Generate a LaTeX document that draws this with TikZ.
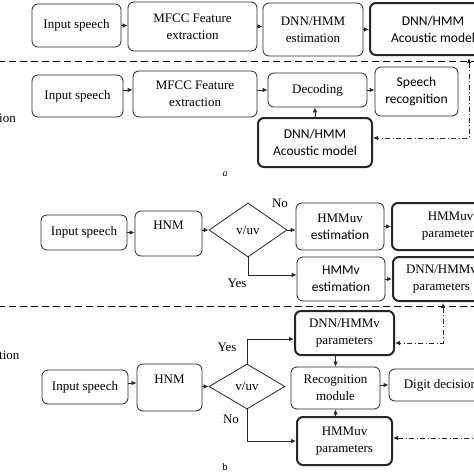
\documentclass[tikz,border=0pt]{standalone}
\usepackage{fontspec}
\setmainfont{Liberation Serif}
\setsansfont{Carlito}
\usetikzlibrary{arrows.meta,shapes.geometric}
\tikzset{
  box/.style={draw=black!85, line width=0.8pt, rounded corners=6pt, inner sep=0pt, align=center,
    font=\fontsize{13}{17}\selectfont},
  thickbox/.style={box, line width=2pt},
  decision/.style={draw=black!85, line width=0.8pt, diamond, inner sep=0pt,
    font=\fontsize{13}{17}\selectfont},
  flow/.style={draw=black!85, line width=0.8pt, -{Latex[length=5pt,width=4.5pt]}},
  dashdot/.style={draw=black!85, line width=0.8pt, dash pattern=on 5pt off 2.5pt on 1pt off 2.5pt},
  tag/.style={font=\fontsize{13}{15}\selectfont, inner sep=0pt}
}
\begin{document}
\begin{tikzpicture}[x=1pt,y=-1pt]
\useasboundingbox (0,0) rectangle (474,474);
\clip (0,0) rectangle (474,474);
\fill[white] (0,0) rectangle (474,474);
% part a, upper row
\node[box, minimum width=89, minimum height=43] (in1) at (76.5,25.5) {Input speech};
\node[box, minimum width=129, minimum height=49] (mfcc1) at (192.5,26.5) {MFCC Feature\\extraction};
\node[box, minimum width=100, minimum height=53] (est1) at (313,29.5) {DNN/HMM\\estimation};
\node[thickbox, minimum width=126, minimum height=52, font=\sffamily\fontsize{13.5}{17}\selectfont] (am1) at (433,29) {DNN/HMM\\Acoustic model};
\draw[flow] (in1.east) -- (in1.east -| mfcc1.west);
\draw[flow] (mfcc1.east) -- (mfcc1.east -| est1.west);
\draw[flow] (est1.east) -- (est1.east -| am1.west);
\draw[dashed, line width=1pt, dash pattern=on 7pt off 4pt] (-2,61) -- (480,61);
% part a, lower row
\node[box, minimum width=91, minimum height=42] (in2) at (77.5,96) {Input speech};
\node[box, minimum width=124, minimum height=46] (mfcc2) at (195,94) {MFCC Feature\\extraction};
\node[box, minimum width=99, minimum height=34] (dec2) at (317.5,90) {Decoding};
\node[box, minimum width=83, minimum height=49, font=\sffamily\fontsize{13.5}{17}\selectfont] (sr2) at (416.5,91.5) {Speech\\recognition};
\node[thickbox, minimum width=114, minimum height=49, font=\sffamily\fontsize{13.5}{17}\selectfont] (am2) at (315,142.5) {DNN/HMM\\Acoustic model};
\draw[flow] (in2.east |- dec2) -- (mfcc2.west |- dec2);
\draw[flow] (mfcc2.east |- dec2) -- (dec2.west);
\draw[flow] (dec2.east) -- (dec2.east -| sr2.west);
\draw[flow] (am2.north) -- (am2.north |- dec2.south);
\coordinate (amtop) at (469,58);
\coordinate (amturn) at (469,138);
\draw[dashdot, {Latex[length=5pt,width=4.5pt]}-{Latex[length=5pt,width=4.5pt]}] (amtop) -- (amturn) -- (amturn -| am2.east);
\node[tag, anchor=west] (lbla) at (-1,118) {ion};
\node[tag, font=\itshape\fontsize{10}{12}\selectfont] (capa) at (225,174) {a};
% part b, upper row
\node[box, minimum width=86, minimum height=35] (in3) at (84,232.5) {Input speech};
\node[box, minimum width=67, minimum height=45] (hnm3) at (168.5,233.5) {HNM\\~};
\node[decision, minimum width=78, minimum height=54, aspect=1.44] (vuv3) at (248,230) {v/uv};
\node[box, minimum width=88, minimum height=47] (uvest3) at (340,226.5) {HMMuv\\{\sffamily\fontsize{13.5}{17}\selectfont estimation}};
\node[thickbox, minimum width=117, minimum height=47] (uvpar3) at (450.5,226.5) {HMMuv\\parameters};
\node[box, minimum width=88, minimum height=44, font=\sffamily\fontsize{13.5}{17}\selectfont] (vest3) at (341,279) {HMMv\\estimation};
\node[thickbox, minimum width=97, minimum height=44] (vpar3) at (441.5,279) {DNN/HMMv\\parameters};
\draw[flow] (in3.east) -- (in3.east -| hnm3.west);
\draw[flow] (hnm3.west |- vuv3) ++(67,0) -- (vuv3.west);
\draw[flow] (vuv3.east) -- (vuv3.east -| uvest3.west);
\draw[flow] (uvest3.east) -- (uvest3.east -| uvpar3.west);
\draw[flow] (vest3.east) -- (vest3.east -| vpar3.west);
\draw[flow] (vuv3.south) |- ([yshift=4pt]vest3.west);
\node[tag] (no3) at (280,203) {No};
\node[tag] (yes3) at (237,283) {Yes};
\draw[dashed, line width=1pt, dash pattern=on 7pt off 4pt] (-2,306) -- (480,306);
% part b, lower row
\node[box, minimum width=86, minimum height=34] (in4) at (85,387) {Input speech};
\node[box, minimum width=65, minimum height=47] (hnm4) at (169.5,387.5) {HNM\\~};
\node[decision, minimum width=76, minimum height=45, aspect=1.69] (vuv4) at (247,386.5) {v/uv};
\node[thickbox, minimum width=99, minimum height=44] (vpar4) at (344.5,333) {DNN/HMMv\\parameters};
\node[box, minimum width=89, minimum height=42] (rec4) at (335.5,388) {Recognition\\module};
\node[box, minimum width=103, minimum height=32] (digit4) at (440.5,385) {Digit decision};
\node[thickbox, minimum width=95, minimum height=48] (uvpar4) at (344.5,441) {HMMuv\\parameters};
\draw[flow] ([yshift=4pt]in4.east) -- ([yshift=4pt]in4.east -| hnm4.west);
\draw[flow] (hnm4.east |- vuv4) -- (vuv4.west);
\draw[flow] (vuv4.north) |- ([yshift=-6pt]vpar4.west);
\draw[flow] (vuv4.south) |- (uvpar4.west);
\draw[flow] (rec4.north |- vpar4.south) -- (rec4.north);
\draw[flow] (rec4.south |- uvpar4.north) -- (rec4.south);
\draw[flow] (rec4.east |- digit4) -- (digit4.west);
\coordinate (vtop) at (443,303);
\coordinate (vturn) at (443,343);
\draw[dashdot, {Latex[length=5pt,width=4.5pt]}-{Latex[length=5pt,width=4.5pt]}] (vtop) -- (vturn) -- (vturn -| vpar4.east);
\coordinate (uvright) at (480,438);
\draw[dashdot, -{Latex[length=5pt,width=4.5pt]}] (uvright) -- (uvright -| uvpar4.east);
\node[tag] (yes4) at (227,347) {Yes};
\node[tag] (no4) at (231,419) {No};
\node[tag, anchor=west] (lblb) at (-1,355) {tion};
\node[tag, font=\sffamily\fontsize{10}{12}\selectfont] (capb) at (225,467) {b};
\end{tikzpicture}
\end{document}
